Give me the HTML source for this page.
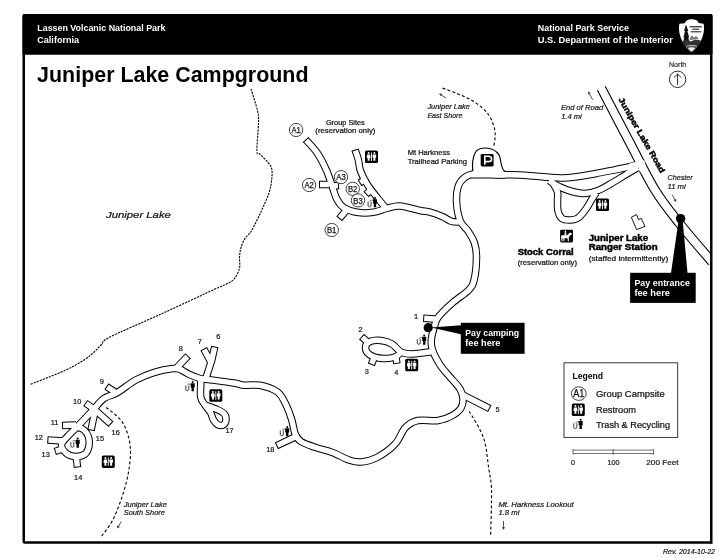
<!DOCTYPE html><html><head><meta charset="utf-8"><style>
html,body{margin:0;padding:0;background:#fff;width:728px;height:558px;overflow:hidden}
svg{display:block;will-change:transform}
text{font-family:"Liberation Sans",sans-serif}
</style></head><body>
<svg width="728" height="558" viewBox="0 0 728 558">
<rect x="0" y="0" width="728" height="558" fill="#fff"/>

<rect x="23.75" y="15.25" width="687.5" height="527.2" fill="none" stroke="#000" stroke-width="2.5" rx="1"/>
<rect x="22.5" y="14" width="690" height="40.7" fill="#000" rx="1.5"/>
<text x="37.3" y="30.9" font-size="9" textLength="128.1" lengthAdjust="spacingAndGlyphs" font-weight="bold" fill="#fff">Lassen Volcanic National Park</text>
<text x="37.3" y="42.8" font-size="9" textLength="41.7" lengthAdjust="spacingAndGlyphs" font-weight="bold" fill="#fff">California</text>
<text x="537.8" y="30.9" font-size="9" textLength="91.1" lengthAdjust="spacingAndGlyphs" font-weight="bold" fill="#fff">National Park Service</text>
<text x="537.8" y="42.8" font-size="9" textLength="135" lengthAdjust="spacingAndGlyphs" font-weight="bold" fill="#fff">U.S. Department of the Interior</text>
<path d="M685,23.3 C685.5,20.5 688.5,19.3 691.5,19.3 C694.5,19.3 698,20.3 698.7,23 L703.6,23.8 C704.4,27 704.2,32 702.6,36.5 C700.5,43 696,48.5 691.5,52.3 C687,48.5 682.5,43 680.4,36.5 C678.8,32 678.6,27 679.4,23.8 Z" fill="#fff"/>
<path d="M686,24.5 L688.3,31 L687.4,31 L689.2,37.5 L688.2,37.5 L689.8,43 L682.8,43 L684.3,37.5 L683.4,37.5 L685,31 L684,31 Z" fill="#111"/>
<g fill="#444"><rect x="689.6" y="26" width="12.2" height="1.4"/><rect x="692.2" y="28.6" width="7" height="1.3"/><rect x="690.6" y="31.1" width="10.6" height="1.3"/></g>
<path d="M682.5,41.5 C685,39.8 688,40 691,41.5 C694,39.5 697,39 700.8,40.5 C699.5,43.5 698.5,45 697.5,46.3 C695,45 689,45 685.5,46.3 C684.5,45 683.5,43.5 682.5,41.5 Z" fill="#333"/>
<path d="M689.5,38.5 L692,35.5 L694,37.5 L696,36 L699,39 L690,40 Z" fill="#777"/>
<path d="M685.5,46.5 C689,45.6 694,45.6 697.5,46.5 C696,48.5 694,50.5 691.5,52 C689,50.5 687,48.5 685.5,46.5 Z" fill="#555"/>
<path d="M688,48 C690,47 693,47 695,48 C694,49.5 693,50.5 691.5,51.3 C690,50.5 689,49.5 688,48 Z" fill="#eee"/>
<text x="37.1" y="81.8" font-size="22" textLength="271.4" lengthAdjust="spacingAndGlyphs" font-weight="bold">Juniper Lake Campground</text>
<path d="M251.00,89.00 C252.12,92.72 256.45,105.65 257.70,111.30 C258.95,116.95 258.63,116.30 258.50,122.90 C258.37,129.50 256.70,145.72 256.90,150.90 C257.10,156.08 257.90,152.13 259.70,154.00 C261.50,155.87 265.70,159.63 267.70,162.10 C269.70,164.57 271.03,165.90 271.70,168.80 C272.37,171.70 272.15,175.47 271.70,179.50 C271.25,183.53 270.78,187.63 269.00,193.00 C267.22,198.37 263.90,205.45 261.00,211.70 C258.10,217.95 254.28,226.02 251.60,230.50 C248.92,234.98 246.68,235.68 244.90,238.60 C243.12,241.52 241.80,244.87 240.90,248.00 C240.00,251.13 239.73,254.05 239.50,257.40 C239.27,260.75 240.38,264.52 239.50,268.10 C238.62,271.68 236.43,276.22 234.20,278.90 C231.97,281.58 229.30,282.50 226.10,284.20 C222.90,285.90 226.02,284.05 215.00,289.10 C203.98,294.15 177.50,306.52 160.00,314.50 C142.50,322.48 119.83,331.92 110.00,337.00 C100.17,342.08 104.00,342.17 101.00,345.00 C98.00,347.83 95.50,351.08 92.00,354.00 C88.50,356.92 84.33,359.83 80.00,362.50 C75.67,365.17 71.33,367.50 66.00,370.00 C60.67,372.50 53.97,375.10 48.00,377.50 C42.03,379.90 33.17,383.25 30.20,384.40" fill="none" stroke="#000" stroke-width="1.1" stroke-dasharray="2.2 1"/>
<path d="M442.50,88.10 C445.08,89.08 452.78,91.77 458.00,94.00 C463.22,96.23 468.78,98.17 473.80,101.50 C478.82,104.83 484.67,109.52 488.10,114.00 C491.53,118.48 493.25,124.40 494.40,128.40 C495.55,132.40 495.15,134.87 495.00,138.00 C494.85,141.13 493.75,145.67 493.50,147.20" fill="none" stroke="#000" stroke-width="1.1" stroke-dasharray="3 2.2"/>
<path d="M106.30,407.50 C109.02,410.02 118.63,416.33 122.60,422.60 C126.57,428.87 129.07,437.17 130.10,445.10 C131.13,453.03 130.05,461.85 128.80,470.20 C127.55,478.55 125.30,486.85 122.60,495.20 C119.90,503.55 116.15,513.40 112.60,520.30 C109.05,527.20 103.18,533.88 101.30,536.60" fill="none" stroke="#000" stroke-width="1.1" stroke-dasharray="3 2.2"/>
<path d="M469.20,411.20 C471.60,415.67 480.33,428.38 483.60,438.00 C486.87,447.62 487.50,460.83 488.80,468.90 C490.10,476.97 490.97,480.18 491.40,486.40 C491.83,492.62 491.53,497.97 491.40,506.20 C491.27,514.43 490.73,530.87 490.60,535.80" fill="none" stroke="#000" stroke-width="1.1" stroke-dasharray="3 2.2"/>
<path d="M601.30,88.20 C606.08,97.33 621.05,126.03 630.00,143.00 C638.95,159.97 646.67,176.50 655.00,190.00 C663.33,203.50 670.50,212.00 680.00,224.00 C689.50,236.00 706.67,255.67 712.00,262.00" fill="none" stroke="#000" stroke-width="9.9"/>
<g fill="none" stroke="#000" stroke-width="7.5" stroke-linejoin="round"><path d="M94.00,409.00 C95.63,407.27 99.87,401.37 103.80,398.60 C107.73,395.83 112.27,395.50 117.60,392.40 C122.93,389.30 129.67,383.35 135.80,380.00 C141.93,376.65 148.18,374.20 154.40,372.30 C160.62,370.40 168.80,369.08 173.10,368.60 C177.40,368.12 177.58,368.47 180.20,369.40 C182.82,370.33 185.50,372.68 188.80,374.20 C192.10,375.72 196.80,377.62 200.00,378.50 C203.20,379.38 202.37,378.75 208.00,379.50 C213.63,380.25 227.72,382.05 233.80,383.00 C239.88,383.95 240.15,384.82 244.50,385.20 C248.85,385.58 254.45,384.20 259.90,385.30 C265.35,386.40 273.02,388.88 277.20,391.80 C281.38,394.72 282.62,398.27 285.00,402.80 C287.38,407.33 289.78,413.75 291.50,419.00 C293.22,424.25 293.70,430.52 295.30,434.30 C296.90,438.08 297.67,439.50 301.10,441.70 C304.53,443.90 310.68,445.72 315.90,447.50 C321.12,449.28 326.88,450.32 332.40,452.40 C337.92,454.48 344.23,458.40 349.00,460.00 C353.77,461.60 356.33,462.42 361.00,462.00 C365.67,461.58 371.33,460.47 377.00,457.50 C382.67,454.53 390.28,449.17 395.00,444.20 C399.72,439.23 401.52,431.65 405.30,427.70 C409.08,423.75 412.20,421.70 417.70,420.50 C423.20,419.30 432.47,421.37 438.30,420.50 C444.13,419.63 448.92,417.37 452.70,415.30 C456.48,413.23 459.28,410.85 461.00,408.10 C462.72,405.35 463.17,401.98 463.00,398.80 C462.83,395.62 462.17,392.63 460.00,389.00 C457.83,385.37 453.28,380.97 450.00,377.00 C446.72,373.03 443.27,369.85 440.30,365.20 C437.33,360.55 433.67,353.57 432.20,349.10 C430.73,344.63 431.15,342.08 431.50,338.40 C431.85,334.72 433.22,330.50 434.30,327.00 C435.38,323.50 435.00,321.40 438.00,317.40 C441.00,313.40 447.23,307.52 452.30,303.00 C457.37,298.48 464.78,294.08 468.40,290.30 C472.02,286.52 472.65,285.68 474.00,280.30 C475.35,274.92 476.42,264.22 476.50,258.00 C476.58,251.78 475.92,247.50 474.50,243.00 C473.08,238.50 470.35,234.62 468.00,231.00 C465.65,227.38 462.30,225.97 460.40,221.30 C458.50,216.63 456.97,208.83 456.60,203.00 C456.23,197.17 456.80,190.60 458.20,186.30 C459.60,182.00 462.08,179.35 465.00,177.20 C467.92,175.05 471.90,173.92 475.70,173.40 C479.50,172.88 483.75,173.85 487.80,174.10 C491.85,174.35 496.05,174.78 500.00,174.90 C503.95,175.02 506.50,174.67 511.50,174.80 C516.50,174.93 521.42,175.17 530.00,175.70 C538.58,176.23 552.00,178.37 563.00,178.00 C574.00,177.63 583.50,175.67 596.00,173.50 C608.50,171.33 631.00,166.42 638.00,165.00"/><path d="M459.00,222.00 C457.72,221.88 454.10,222.22 451.30,221.30 C448.50,220.38 445.75,218.02 442.20,216.50 C438.65,214.98 433.70,213.20 430.00,212.20 C426.30,211.20 425.00,211.53 420.00,210.50 C415.00,209.47 405.47,206.38 400.00,206.00 C394.53,205.62 391.67,207.15 387.20,208.20 C382.73,209.25 378.25,211.62 373.20,212.30 C368.15,212.98 361.75,213.03 356.90,212.30 C352.05,211.57 347.40,210.00 344.10,207.90 C340.80,205.80 339.05,203.20 337.10,199.70 C335.15,196.20 334.15,191.75 332.40,186.90 C330.65,182.05 329.12,176.23 326.60,170.60 C324.08,164.97 320.80,158.28 317.30,153.10 C313.80,147.92 307.55,141.77 305.60,139.50"/><path d="M385.00,207.00 C383.82,205.58 380.83,202.23 377.90,198.50 C374.97,194.77 370.32,189.25 367.40,184.60 C364.48,179.95 361.90,174.70 360.40,170.60 C358.90,166.50 359.30,163.50 358.40,160.00 C357.50,156.50 355.57,151.33 355.00,149.60"/><path d="M364.50,180.00 L359.50,183.00"/><path d="M370.50,190.00 L366.00,194.50"/><path d="M329.00,184.50 L319.00,184.60"/><path d="M333.00,186.00 L339.00,185.50"/><path d="M347.00,209.50 L339.20,218.80"/><path d="M115.00,392.00 L106.40,386.40"/><path d="M176.00,368.50 L188.10,355.80"/><path d="M206.00,378.00 L211.20,361.60"/><path d="M211.20,362.60 L203.70,348.70"/><path d="M211.20,362.60 L214.80,346.50"/><path d="M295.00,437.00 L276.40,445.80"/><path d="M462.00,394.50 L489.80,408.70"/><path d="M435.00,319.00 L423.20,318.20"/><path d="M201.00,379.00 C200.95,381.98 200.03,392.57 200.70,396.90 C201.37,401.23 203.37,402.40 205.00,405.00 C206.63,407.60 209.08,410.00 210.50,412.50 C211.92,415.00 212.25,417.95 213.50,420.00 C214.75,422.05 216.33,424.00 218.00,424.80 C219.67,425.60 222.17,425.68 223.50,424.80 C224.83,423.92 225.92,421.38 226.00,419.50 C226.08,417.62 225.67,415.25 224.00,413.50 C222.33,411.75 219.17,410.42 216.00,409.00 C212.83,407.58 206.83,405.67 205.00,405.00"/><path d="M431.00,351.80 C427.83,352.17 417.00,353.97 412.00,354.00 C407.00,354.03 404.33,353.67 401.00,352.00 C397.67,350.33 395.33,345.92 392.00,344.00 C388.67,342.08 384.67,340.92 381.00,340.50 C377.33,340.08 372.58,340.33 370.00,341.50 C367.42,342.67 365.50,345.25 365.50,347.50 C365.50,349.75 367.08,353.17 370.00,355.00 C372.92,356.83 378.83,358.17 383.00,358.50 C387.17,358.83 392.00,358.08 395.00,357.00 C398.00,355.92 400.00,352.83 401.00,352.00"/><path d="M367.00,341.50 L361.50,336.60"/><path d="M374.00,358.00 L371.30,364.80"/><path d="M396.00,357.00 L396.80,363.80"/><path d="M94.00,409.00 L85.30,403.00"/><path d="M94.00,409.00 L111.00,424.20"/><path d="M95.00,411.00 L91.00,430.50"/><path d="M94.00,409.00 L77.00,427.00"/><path d="M77.00,427.00 C75.50,428.50 70.58,433.08 68.00,436.00 C65.42,438.92 61.83,441.67 61.50,444.50 C61.17,447.33 63.75,451.00 66.00,453.00 C68.25,455.00 71.83,456.33 75.00,456.50 C78.17,456.67 82.67,455.75 85.00,454.00 C87.33,452.25 88.42,448.83 89.00,446.00 C89.58,443.17 89.33,439.67 88.50,437.00 C87.67,434.33 85.92,431.67 84.00,430.00 C82.08,428.33 78.17,427.50 77.00,427.00"/><path d="M76.00,425.00 L62.00,425.50"/><path d="M64.00,441.00 L47.40,440.00"/><path d="M64.00,448.50 L54.80,451.50"/><path d="M76.00,455.00 L77.50,467.50"/><path d="M549.00,180.50 C550.83,181.58 556.17,185.17 560.00,187.00 C563.83,188.83 567.83,190.42 572.00,191.50 C576.17,192.58 580.67,193.67 585.00,193.50 C589.33,193.33 593.50,192.25 598.00,190.50 C602.50,188.75 607.33,185.67 612.00,183.00 C616.67,180.33 621.67,177.08 626.00,174.50 C630.33,171.92 636.00,168.67 638.00,167.50"/><path d="M553.00,183.00 C553.75,184.50 556.75,189.17 557.50,192.00 C558.25,194.83 557.42,196.83 557.50,200.00 C557.58,203.17 557.25,207.92 558.00,211.00 C558.75,214.08 560.00,217.00 562.00,218.50 C564.00,220.00 567.33,220.08 570.00,220.00 C572.67,219.92 575.33,219.83 578.00,218.00 C580.67,216.17 583.67,212.17 586.00,209.00 C588.33,205.83 590.33,201.67 592.00,199.00 C593.67,196.33 595.33,194.00 596.00,193.00"/></g><path d="M473,172 C472,165 471.5,158 476.3,151 C479,148.5 482,148 485,148 C490,148 496,149.5 499.3,155.4 C501,159 500.5,166 503.7,170.5 C506,173 510,173.5 515,174 L505,178 L470,178 Z" fill="#fff" stroke="#000" stroke-width="1.15"/><g fill="none" stroke="#fff" stroke-width="5.5" stroke-linejoin="round"><path d="M94.00,409.00 C95.63,407.27 99.87,401.37 103.80,398.60 C107.73,395.83 112.27,395.50 117.60,392.40 C122.93,389.30 129.67,383.35 135.80,380.00 C141.93,376.65 148.18,374.20 154.40,372.30 C160.62,370.40 168.80,369.08 173.10,368.60 C177.40,368.12 177.58,368.47 180.20,369.40 C182.82,370.33 185.50,372.68 188.80,374.20 C192.10,375.72 196.80,377.62 200.00,378.50 C203.20,379.38 202.37,378.75 208.00,379.50 C213.63,380.25 227.72,382.05 233.80,383.00 C239.88,383.95 240.15,384.82 244.50,385.20 C248.85,385.58 254.45,384.20 259.90,385.30 C265.35,386.40 273.02,388.88 277.20,391.80 C281.38,394.72 282.62,398.27 285.00,402.80 C287.38,407.33 289.78,413.75 291.50,419.00 C293.22,424.25 293.70,430.52 295.30,434.30 C296.90,438.08 297.67,439.50 301.10,441.70 C304.53,443.90 310.68,445.72 315.90,447.50 C321.12,449.28 326.88,450.32 332.40,452.40 C337.92,454.48 344.23,458.40 349.00,460.00 C353.77,461.60 356.33,462.42 361.00,462.00 C365.67,461.58 371.33,460.47 377.00,457.50 C382.67,454.53 390.28,449.17 395.00,444.20 C399.72,439.23 401.52,431.65 405.30,427.70 C409.08,423.75 412.20,421.70 417.70,420.50 C423.20,419.30 432.47,421.37 438.30,420.50 C444.13,419.63 448.92,417.37 452.70,415.30 C456.48,413.23 459.28,410.85 461.00,408.10 C462.72,405.35 463.17,401.98 463.00,398.80 C462.83,395.62 462.17,392.63 460.00,389.00 C457.83,385.37 453.28,380.97 450.00,377.00 C446.72,373.03 443.27,369.85 440.30,365.20 C437.33,360.55 433.67,353.57 432.20,349.10 C430.73,344.63 431.15,342.08 431.50,338.40 C431.85,334.72 433.22,330.50 434.30,327.00 C435.38,323.50 435.00,321.40 438.00,317.40 C441.00,313.40 447.23,307.52 452.30,303.00 C457.37,298.48 464.78,294.08 468.40,290.30 C472.02,286.52 472.65,285.68 474.00,280.30 C475.35,274.92 476.42,264.22 476.50,258.00 C476.58,251.78 475.92,247.50 474.50,243.00 C473.08,238.50 470.35,234.62 468.00,231.00 C465.65,227.38 462.30,225.97 460.40,221.30 C458.50,216.63 456.97,208.83 456.60,203.00 C456.23,197.17 456.80,190.60 458.20,186.30 C459.60,182.00 462.08,179.35 465.00,177.20 C467.92,175.05 471.90,173.92 475.70,173.40 C479.50,172.88 483.75,173.85 487.80,174.10 C491.85,174.35 496.05,174.78 500.00,174.90 C503.95,175.02 506.50,174.67 511.50,174.80 C516.50,174.93 521.42,175.17 530.00,175.70 C538.58,176.23 552.00,178.37 563.00,178.00 C574.00,177.63 583.50,175.67 596.00,173.50 C608.50,171.33 631.00,166.42 638.00,165.00"/><path d="M459.00,222.00 C457.72,221.88 454.10,222.22 451.30,221.30 C448.50,220.38 445.75,218.02 442.20,216.50 C438.65,214.98 433.70,213.20 430.00,212.20 C426.30,211.20 425.00,211.53 420.00,210.50 C415.00,209.47 405.47,206.38 400.00,206.00 C394.53,205.62 391.67,207.15 387.20,208.20 C382.73,209.25 378.25,211.62 373.20,212.30 C368.15,212.98 361.75,213.03 356.90,212.30 C352.05,211.57 347.40,210.00 344.10,207.90 C340.80,205.80 339.05,203.20 337.10,199.70 C335.15,196.20 334.15,191.75 332.40,186.90 C330.65,182.05 329.12,176.23 326.60,170.60 C324.08,164.97 320.69,158.16 317.30,153.10 C313.91,148.04 308.09,142.40 306.25,140.26"/><path d="M385.00,207.00 C383.82,205.58 380.83,202.23 377.90,198.50 C374.97,194.77 370.32,189.25 367.40,184.60 C364.48,179.95 361.90,174.70 360.40,170.60 C358.90,166.50 359.25,163.34 358.40,160.00 C357.55,156.66 355.83,152.13 355.31,150.55"/><path d="M364.50,180.00 L360.36,182.49"/><path d="M370.50,190.00 L366.71,193.79"/><path d="M329.00,184.50 L320.00,184.59"/><path d="M333.00,186.00 L338.00,185.58"/><path d="M347.00,209.50 L339.84,218.03"/><path d="M115.00,392.00 L107.24,386.95"/><path d="M176.00,368.50 L187.41,356.52"/><path d="M206.00,378.00 L211.20,361.60"/><path d="M211.20,362.60 L204.17,349.58"/><path d="M211.20,362.60 L214.58,347.48"/><path d="M295.00,437.00 L277.30,445.37"/><path d="M462.00,394.50 L488.91,408.25"/><path d="M435.00,319.00 L424.20,318.27"/><path d="M201.00,379.00 C200.95,381.98 200.03,392.57 200.70,396.90 C201.37,401.23 203.37,402.40 205.00,405.00 C206.63,407.60 209.08,410.00 210.50,412.50 C211.92,415.00 212.25,417.95 213.50,420.00 C214.75,422.05 216.33,424.00 218.00,424.80 C219.67,425.60 222.17,425.68 223.50,424.80 C224.83,423.92 225.92,421.38 226.00,419.50 C226.08,417.62 225.67,415.25 224.00,413.50 C222.33,411.75 219.17,410.42 216.00,409.00 C212.83,407.58 206.83,405.67 205.00,405.00"/><path d="M431.00,351.80 C427.83,352.17 417.00,353.97 412.00,354.00 C407.00,354.03 404.33,353.67 401.00,352.00 C397.67,350.33 395.33,345.92 392.00,344.00 C388.67,342.08 384.67,340.92 381.00,340.50 C377.33,340.08 372.58,340.33 370.00,341.50 C367.42,342.67 365.50,345.25 365.50,347.50 C365.50,349.75 367.08,353.17 370.00,355.00 C372.92,356.83 378.83,358.17 383.00,358.50 C387.17,358.83 392.00,358.08 395.00,357.00 C398.00,355.92 400.00,352.83 401.00,352.00"/><path d="M367.00,341.50 L362.25,337.27"/><path d="M374.00,358.00 L371.67,363.87"/><path d="M396.00,357.00 L396.68,362.81"/><path d="M94.00,409.00 L86.12,403.57"/><path d="M94.00,409.00 L110.25,423.53"/><path d="M95.00,411.00 L91.20,429.52"/><path d="M94.00,409.00 L77.00,427.00"/><path d="M77.00,427.00 C75.50,428.50 70.58,433.08 68.00,436.00 C65.42,438.92 61.83,441.67 61.50,444.50 C61.17,447.33 63.75,451.00 66.00,453.00 C68.25,455.00 71.83,456.33 75.00,456.50 C78.17,456.67 82.67,455.75 85.00,454.00 C87.33,452.25 88.42,448.83 89.00,446.00 C89.58,443.17 89.33,439.67 88.50,437.00 C87.67,434.33 85.92,431.67 84.00,430.00 C82.08,428.33 78.17,427.50 77.00,427.00"/><path d="M76.00,425.00 L63.00,425.46"/><path d="M64.00,441.00 L48.40,440.06"/><path d="M64.00,448.50 L55.75,451.19"/><path d="M76.00,455.00 L77.38,466.51"/><path d="M549.00,180.50 C550.83,181.58 556.17,185.17 560.00,187.00 C563.83,188.83 567.83,190.42 572.00,191.50 C576.17,192.58 580.67,193.67 585.00,193.50 C589.33,193.33 593.50,192.25 598.00,190.50 C602.50,188.75 607.33,185.67 612.00,183.00 C616.67,180.33 621.67,177.08 626.00,174.50 C630.33,171.92 636.00,168.67 638.00,167.50"/><path d="M553.00,183.00 C553.75,184.50 556.75,189.17 557.50,192.00 C558.25,194.83 557.42,196.83 557.50,200.00 C557.58,203.17 557.25,207.92 558.00,211.00 C558.75,214.08 560.00,217.00 562.00,218.50 C564.00,220.00 567.33,220.08 570.00,220.00 C572.67,219.92 575.33,219.83 578.00,218.00 C580.67,216.17 583.67,212.17 586.00,209.00 C588.33,205.83 590.33,201.67 592.00,199.00 C593.67,196.33 595.33,194.00 596.00,193.00"/></g>
<path d="M599.40,84.60 C599.72,85.20 596.20,78.47 601.30,88.20 C606.40,97.93 621.05,126.03 630.00,143.00 C638.95,159.97 646.67,176.50 655.00,190.00 C663.33,203.50 670.50,212.00 680.00,224.00 C689.50,236.00 706.67,255.67 712.00,262.00" fill="none" stroke="#fff" stroke-width="7.7"/>
<path d="M630,166 L645,163" stroke="#fff" stroke-width="5.5"/>
<path d="M640,168 L648,176" stroke="#fff" stroke-width="5"/>
<rect x="709.9" y="54" width="30" height="488" fill="#fff"/><rect x="710" y="54" width="2.5" height="489.7" fill="#000"/>
<circle cx="428.2" cy="327.7" r="4.6"/>
<path d="M431,327.6 L461,325.2 L461,334.2 Z"/>
<rect x="460.8" y="322.8" width="63.8" height="31" />
<text x="465.3" y="336.3" font-size="9.4" textLength="53.9" lengthAdjust="spacingAndGlyphs" font-weight="bold" fill="#fff">Pay camping</text><text x="465.3" y="346.2" font-size="9.4" textLength="35.1" lengthAdjust="spacingAndGlyphs" font-weight="bold" fill="#fff">fee here</text>
<circle cx="680.6" cy="218.6" r="4.7"/>
<path d="M678.5,221 L682.7,221 L687.5,273 L671,273 Z"/>
<rect x="630.1" y="272.8" width="65.6" height="30.1"/>
<text x="634.4" y="286" font-size="9.4" textLength="55.5" lengthAdjust="spacingAndGlyphs" font-weight="bold" fill="#fff">Pay entrance</text><text x="634.4" y="296.4" font-size="9.4" textLength="35.5" lengthAdjust="spacingAndGlyphs" font-weight="bold" fill="#fff">fee here</text>
<rect x="365" y="150.5" width="13" height="12.5" rx="1.6" fill="#000"/><g fill="#fff"><circle cx="368.64" cy="153.10" r="1.0"/><path d="M367.14,154.50 L370.14,154.50 L370.64,158.00 L369.64,158.00 L369.64,160.80 L367.64,160.80 L367.64,158.00 L366.64,158.00 Z"/><circle cx="374.36" cy="153.10" r="1.0"/><path d="M372.56,154.50 L376.16,154.50 L376.16,157.70 L375.36,157.70 L375.36,160.80 L373.36,160.80 L373.36,157.70 L372.56,157.70 Z"/><rect x="371.05" y="152.50" width="0.9" height="8.5"/></g>
<rect x="596" y="198.5" width="13" height="12.5" rx="1.6" fill="#000"/><g fill="#fff"><circle cx="599.64" cy="201.10" r="1.0"/><path d="M598.14,202.50 L601.14,202.50 L601.64,206.00 L600.64,206.00 L600.64,208.80 L598.64,208.80 L598.64,206.00 L597.64,206.00 Z"/><circle cx="605.36" cy="201.10" r="1.0"/><path d="M603.56,202.50 L607.16,202.50 L607.16,205.70 L606.36,205.70 L606.36,208.80 L604.36,208.80 L604.36,205.70 L603.56,205.70 Z"/><rect x="602.05" y="200.50" width="0.9" height="8.5"/></g>
<rect x="405.2" y="358.8" width="13" height="12.5" rx="1.6" fill="#000"/><g fill="#fff"><circle cx="408.84" cy="361.40" r="1.0"/><path d="M407.34,362.80 L410.34,362.80 L410.84,366.30 L409.84,366.30 L409.84,369.10 L407.84,369.10 L407.84,366.30 L406.84,366.30 Z"/><circle cx="414.56" cy="361.40" r="1.0"/><path d="M412.76,362.80 L416.36,362.80 L416.36,366.00 L415.56,366.00 L415.56,369.10 L413.56,369.10 L413.56,366.00 L412.76,366.00 Z"/><rect x="411.25" y="360.80" width="0.9" height="8.5"/></g>
<rect x="209.3" y="389.3" width="13" height="12.5" rx="1.6" fill="#000"/><g fill="#fff"><circle cx="212.94" cy="391.90" r="1.0"/><path d="M211.44,393.30 L214.44,393.30 L214.94,396.80 L213.94,396.80 L213.94,399.60 L211.94,399.60 L211.94,396.80 L210.94,396.80 Z"/><circle cx="218.66" cy="391.90" r="1.0"/><path d="M216.86,393.30 L220.46,393.30 L220.46,396.50 L219.66,396.50 L219.66,399.60 L217.66,399.60 L217.66,396.50 L216.86,396.50 Z"/><rect x="215.35" y="391.30" width="0.9" height="8.5"/></g>
<rect x="101.8" y="455.4" width="13" height="12.5" rx="1.6" fill="#000"/><g fill="#fff"><circle cx="105.44" cy="458.00" r="1.0"/><path d="M103.94,459.40 L106.94,459.40 L107.44,462.90 L106.44,462.90 L106.44,465.70 L104.44,465.70 L104.44,462.90 L103.44,462.90 Z"/><circle cx="111.16" cy="458.00" r="1.0"/><path d="M109.36,459.40 L112.96,459.40 L112.96,462.60 L112.16,462.60 L112.16,465.70 L110.16,465.70 L110.16,462.60 L109.36,462.60 Z"/><rect x="107.85" y="457.40" width="0.9" height="8.5"/></g>
<rect x="571.8" y="403.5" width="13" height="12.5" rx="1.6" fill="#000"/><g fill="#fff"><circle cx="575.44" cy="406.10" r="1.0"/><path d="M573.94,407.50 L576.94,407.50 L577.44,411.00 L576.44,411.00 L576.44,413.80 L574.44,413.80 L574.44,411.00 L573.44,411.00 Z"/><circle cx="581.16" cy="406.10" r="1.0"/><path d="M579.36,407.50 L582.96,407.50 L582.96,410.70 L582.16,410.70 L582.16,413.80 L580.16,413.80 L580.16,410.70 L579.36,410.70 Z"/><rect x="577.85" y="405.50" width="0.9" height="8.5"/></g>
<g><path d="M417.30,339.00 L417.30,343.50 Q418.80,345.30 420.30,343.50 L420.30,339.00" fill="none" stroke="#111" stroke-width="0.8"/><path d="M418.80,338.50 Q420.00,337.00 422.50,337.80" fill="none" stroke="#222" stroke-width="0.6"/><circle cx="424.20" cy="335.40" r="1.0"/><path d="M422.20,336.70 L426.20,336.70 L426.20,341.00 L425.40,341.00 L425.40,344.80 L423.00,344.80 L423.00,341.00 L422.20,341.00 Z"/></g>
<g><path d="M368.10,201.50 L368.10,206.00 Q369.60,207.80 371.10,206.00 L371.10,201.50" fill="none" stroke="#111" stroke-width="0.8"/><path d="M369.60,201.00 Q370.80,199.50 373.30,200.30" fill="none" stroke="#222" stroke-width="0.6"/><circle cx="375.00" cy="197.90" r="1.0"/><path d="M373.00,199.20 L377.00,199.20 L377.00,203.50 L376.20,203.50 L376.20,207.30 L373.80,207.30 L373.80,203.50 L373.00,203.50 Z"/></g>
<g><path d="M185.80,385.50 L185.80,390.00 Q187.30,391.80 188.80,390.00 L188.80,385.50" fill="none" stroke="#111" stroke-width="0.8"/><path d="M187.30,385.00 Q188.50,383.50 191.00,384.30" fill="none" stroke="#222" stroke-width="0.6"/><circle cx="192.70" cy="381.90" r="1.0"/><path d="M190.70,383.20 L194.70,383.20 L194.70,387.50 L193.90,387.50 L193.90,391.30 L191.50,391.30 L191.50,387.50 L190.70,387.50 Z"/></g>
<g><path d="M280.30,430.50 L280.30,435.00 Q281.80,436.80 283.30,435.00 L283.30,430.50" fill="none" stroke="#111" stroke-width="0.8"/><path d="M281.80,430.00 Q283.00,428.50 285.50,429.30" fill="none" stroke="#222" stroke-width="0.6"/><circle cx="287.20" cy="426.90" r="1.0"/><path d="M285.20,428.20 L289.20,428.20 L289.20,432.50 L288.40,432.50 L288.40,436.30 L286.00,436.30 L286.00,432.50 L285.20,432.50 Z"/></g>
<g><path d="M70.80,442.00 L70.80,446.50 Q72.30,448.30 73.80,446.50 L73.80,442.00" fill="none" stroke="#111" stroke-width="0.8"/><path d="M72.30,441.50 Q73.50,440.00 76.00,440.80" fill="none" stroke="#222" stroke-width="0.6"/><circle cx="77.70" cy="438.40" r="1.0"/><path d="M75.70,439.70 L79.70,439.70 L79.70,444.00 L78.90,444.00 L78.90,447.80 L76.50,447.80 L76.50,444.00 L75.70,444.00 Z"/></g>
<g><path d="M573.80,423.30 L573.80,427.80 Q575.30,429.60 576.80,427.80 L576.80,423.30" fill="none" stroke="#111" stroke-width="0.8"/><path d="M575.30,422.80 Q576.50,421.30 579.00,422.10" fill="none" stroke="#222" stroke-width="0.6"/><circle cx="580.70" cy="419.70" r="1.0"/><path d="M578.70,421.00 L582.70,421.00 L582.70,425.30 L581.90,425.30 L581.90,429.10 L579.50,429.10 L579.50,425.30 L578.70,425.30 Z"/></g>
<rect x="480.7" y="153.9" width="12.9" height="12.6" rx="1.4"/>
<path d="M484.8,164.8 L484.8,156.2 L488.3,156.2 C490.8,156.2 491.6,157.6 491.6,158.9 C491.6,160.4 490.6,161.6 488.3,161.6 L484.8,161.6" fill="none" stroke="#fff" stroke-width="1.6"/>
<rect x="560.1" y="229.7" width="12.9" height="12.8" rx="1.4"/>
<path d="M561.3,235.2 L567.2,235.2 L569.3,233.1 L570.6,232.6 L572,233.7 L571.3,234.9 L570,235.2 L568.8,237.8 L568.8,241.2 L567.8,241.2 L567.5,238.3 L564.6,238.3 L564.4,241.2 L563.5,241.2 L563.2,238.3 L562.6,238.3 L562.4,241.2 L561.5,241.2 L561.2,237.5 Z" fill="#fff"/>
<circle cx="565.4" cy="231.4" r="0.8" fill="#fff"/><path d="M564.7,232.3 L566.2,232.3 L566.4,235.5 L564.5,235.5 Z" fill="#fff"/>
<path d="M631.3,217.2 L636.6,214.6 L638.6,219.6 L641.2,218.4 L645,226.3 L636.6,229.6 Z" fill="#fff" stroke="#000" stroke-width="0.9"/>
<ellipse cx="296.1" cy="130" rx="6.7" ry="6.6" fill="#fff" stroke="#222" stroke-width="0.85"/><text x="296.1" y="133.10" font-size="8.6" text-anchor="middle" fill="#111" stroke="#111" stroke-width="0.25" textLength="9.4" lengthAdjust="spacingAndGlyphs">A1</text>
<ellipse cx="309.1" cy="185" rx="6.7" ry="6.6" fill="#fff" stroke="#222" stroke-width="0.85"/><text x="309.1" y="188.10" font-size="8.6" text-anchor="middle" fill="#111" stroke="#111" stroke-width="0.25" textLength="9.4" lengthAdjust="spacingAndGlyphs">A2</text>
<ellipse cx="341" cy="177.1" rx="6.7" ry="6.6" fill="#fff" stroke="#222" stroke-width="0.85"/><text x="341" y="180.20" font-size="8.6" text-anchor="middle" fill="#111" stroke="#111" stroke-width="0.25" textLength="9.4" lengthAdjust="spacingAndGlyphs">A3</text>
<ellipse cx="352.7" cy="188.8" rx="6.7" ry="6.6" fill="#fff" stroke="#222" stroke-width="0.85"/><text x="352.7" y="191.90" font-size="8.6" text-anchor="middle" fill="#111" stroke="#111" stroke-width="0.25" textLength="9.4" lengthAdjust="spacingAndGlyphs">B2</text>
<ellipse cx="358" cy="200.4" rx="6.7" ry="6.6" fill="#fff" stroke="#222" stroke-width="0.85"/><text x="358" y="203.50" font-size="8.6" text-anchor="middle" fill="#111" stroke="#111" stroke-width="0.25" textLength="9.4" lengthAdjust="spacingAndGlyphs">B3</text>
<ellipse cx="331.7" cy="230" rx="6.7" ry="6.6" fill="#fff" stroke="#222" stroke-width="0.85"/><text x="331.7" y="233.10" font-size="8.6" text-anchor="middle" fill="#111" stroke="#111" stroke-width="0.25" textLength="9.4" lengthAdjust="spacingAndGlyphs">B1</text>
<ellipse cx="578.8" cy="393.6" rx="7.4" ry="6.8" fill="#fff" stroke="#222" stroke-width="0.85"/><text x="578.8" y="397.20" font-size="10" text-anchor="middle" fill="#111" stroke="#111" stroke-width="0.25" textLength="11.2" lengthAdjust="spacingAndGlyphs">A1</text>
<text x="669" y="67.2" font-size="7" textLength="17.3" lengthAdjust="spacingAndGlyphs" fill="#333" stroke="#333" stroke-width="0.22">North</text>
<circle cx="677.6" cy="79.3" r="8.2" fill="none" stroke="#111" stroke-width="0.9"/>
<path d="M677.6,85 L677.6,74 M674,77.5 L677.6,74 L681.2,77.5" fill="none" stroke="#111" stroke-width="0.9"/>
<rect x="564" y="362.8" width="113.7" height="74.6" fill="none" stroke="#222" stroke-width="0.9"/>
<text x="572.5" y="379.2" font-size="8.6" textLength="30.6" lengthAdjust="spacingAndGlyphs" font-weight="bold">Legend</text>
<text x="596" y="396.9" font-size="8.8" textLength="68.7" lengthAdjust="spacingAndGlyphs" fill="#111" stroke="#111" stroke-width="0.22">Group Campsite</text><text x="596" y="412.5" font-size="8.8" textLength="40" lengthAdjust="spacingAndGlyphs" fill="#111" stroke="#111" stroke-width="0.22">Restroom</text><text x="596" y="427.6" font-size="8.8" textLength="74" lengthAdjust="spacingAndGlyphs" fill="#111" stroke="#111" stroke-width="0.22">Trash &amp; Recycling</text>
<path d="M573,450.1 L653.5,450.1 M573,453.5 L653.5,453.5 M573,449 L573,454.6 M613.2,449 L613.2,454.6 M653.5,449 L653.5,454.6" stroke="#333" stroke-width="0.7" fill="none"/>
<text x="572.9" y="464.7" font-size="7.2" fill="#222" text-anchor="middle" stroke="#222" stroke-width="0.22">0</text><text x="613.6" y="464.7" font-size="7.2" fill="#222" text-anchor="middle" stroke="#222" stroke-width="0.22">100</text><text x="646.3" y="464.7" font-size="7.2" textLength="32.3" lengthAdjust="spacingAndGlyphs" fill="#222" stroke="#222" stroke-width="0.22">200 Feet</text>
<text x="325.9" y="125" font-size="7.1" textLength="38.9" lengthAdjust="spacingAndGlyphs" fill="#111" stroke="#111" stroke-width="0.22">Group Sites</text>
<text x="315.3" y="133" font-size="7.1" textLength="60.1" lengthAdjust="spacingAndGlyphs" fill="#111" stroke="#111" stroke-width="0.22">(reservation only)</text>
<text x="407.7" y="155.4" font-size="7.3" textLength="42.3" lengthAdjust="spacingAndGlyphs" fill="#111" stroke="#111" stroke-width="0.22">Mt Harkness</text>
<text x="407.7" y="164.1" font-size="7.3" textLength="59.3" lengthAdjust="spacingAndGlyphs" fill="#111" stroke="#111" stroke-width="0.22">Trailhead Parking</text>
<text x="517.7" y="264.6" font-size="7.2" textLength="59.3" lengthAdjust="spacingAndGlyphs" fill="#111" stroke="#111" stroke-width="0.22">(reservation only)</text>
<text x="588.7" y="260.6" font-size="7.2" textLength="79.5" lengthAdjust="spacingAndGlyphs" fill="#111" stroke="#111" stroke-width="0.22">(staffed intermittently)</text>
<text x="517.7" y="255.3" font-size="8.9" textLength="56" lengthAdjust="spacingAndGlyphs" font-weight="bold" stroke="#000" stroke-width="0.45">Stock Corral</text>
<text x="588.7" y="240.8" font-size="8.9" textLength="59.3" lengthAdjust="spacingAndGlyphs" font-weight="bold" stroke="#000" stroke-width="0.45">Juniper Lake</text>
<text x="588.7" y="250.3" font-size="8.9" textLength="69" lengthAdjust="spacingAndGlyphs" font-weight="bold" stroke="#000" stroke-width="0.45">Ranger Station</text>
<text x="0" y="3" font-size="7.9" textLength="85.5" lengthAdjust="spacingAndGlyphs" font-weight="bold" stroke="#000" stroke-width="0.45" transform="translate(620.8,97.8) rotate(60.3)">Juniper Lake Road</text>
<text x="427.4" y="109.1" font-size="7.2" textLength="42.5" lengthAdjust="spacingAndGlyphs" font-style="italic" fill="#222" stroke="#222" stroke-width="0.22">Juniper Lake</text><text x="427.4" y="117.8" font-size="7.2" textLength="35" lengthAdjust="spacingAndGlyphs" font-style="italic" fill="#222" stroke="#222" stroke-width="0.22">East Shore</text>
<text x="560.9" y="109.7" font-size="7.2" textLength="42.3" lengthAdjust="spacingAndGlyphs" font-style="italic" fill="#222" stroke="#222" stroke-width="0.22">End of Road</text><text x="561.2" y="118.5" font-size="7.2" textLength="20.6" lengthAdjust="spacingAndGlyphs" font-style="italic" fill="#222" stroke="#222" stroke-width="0.22">1.4 mi</text>
<text x="667.5" y="180.3" font-size="7.2" textLength="25.1" lengthAdjust="spacingAndGlyphs" font-style="italic" fill="#222" stroke="#222" stroke-width="0.22">Chester</text><text x="667.5" y="188.8" font-size="7.2" textLength="18.2" lengthAdjust="spacingAndGlyphs" font-style="italic" fill="#222" stroke="#222" stroke-width="0.22">11 mi</text>
<text x="123.7" y="506.5" font-size="7.2" textLength="43.2" lengthAdjust="spacingAndGlyphs" font-style="italic" fill="#222" stroke="#222" stroke-width="0.22">Juniper Lake</text><text x="123.7" y="515.2" font-size="7.2" textLength="41.2" lengthAdjust="spacingAndGlyphs" font-style="italic" fill="#222" stroke="#222" stroke-width="0.22">South Shore</text>
<text x="498.4" y="506.6" font-size="7.2" textLength="75.4" lengthAdjust="spacingAndGlyphs" font-style="italic" fill="#222" stroke="#222" stroke-width="0.22">Mt. Harkness Lookout</text><text x="498.4" y="515.2" font-size="7.2" textLength="21" lengthAdjust="spacingAndGlyphs" font-style="italic" fill="#222" stroke="#222" stroke-width="0.22">1.8 mi</text>
<text x="663" y="553.6" font-size="6.8" textLength="52" lengthAdjust="spacingAndGlyphs" font-style="italic" fill="#222" stroke="#222" stroke-width="0.22">Rev. 2014-10-22</text>
<text x="106" y="217.8" font-size="9.3" textLength="64.9" lengthAdjust="spacingAndGlyphs" font-style="italic" fill="#111" stroke="#111" stroke-width="0.22">Juniper Lake</text>
<path d="M446,97.9 L439.8,94 M442.10,94.14 L439.8,94 L440.92,96.01" fill="none" stroke="#222" stroke-width="0.8"/>
<path d="M592.7,99.8 L588.4,92.1 M590.35,93.32 L588.4,92.1 L588.42,94.40" fill="none" stroke="#222" stroke-width="0.8"/>
<path d="M672.2,194.8 L675.7,201.3 M673.77,200.05 L675.7,201.3 L675.71,199.00" fill="none" stroke="#222" stroke-width="0.8"/>
<path d="M121.3,521.6 L117.6,527.8 M117.69,525.50 L117.6,527.8 L119.58,526.63" fill="none" stroke="#222" stroke-width="0.8"/>
<path d="M503.5,521 L503.5,529.2 M502.40,527.18 L503.5,529.2 L504.60,527.18" fill="none" stroke="#222" stroke-width="0.8"/>
<g font-size="7.4" fill="#111" text-anchor="middle" stroke="#111" stroke-width="0.2">
<text x="101.9" y="384.40">9</text>
<text x="77.2" y="404.10">10</text>
<text x="54.6" y="424.80">11</text>
<text x="38.8" y="439.60">12</text>
<text x="45.7" y="457.40">13</text>
<text x="78.2" y="479.60">14</text>
<text x="99.9" y="441.20">15</text>
<text x="115.7" y="434.70">16</text>
<text x="229.5" y="433.40">17</text>
<text x="270.3" y="452.00">18</text>
<text x="180.9" y="350.50">8</text>
<text x="199.8" y="343.70">7</text>
<text x="218.3" y="338.80">6</text>
<text x="416" y="318.60">1</text>
<text x="360.6" y="332.00">2</text>
<text x="366.9" y="374.10">3</text>
<text x="396.4" y="374.60">4</text>
<text x="497.6" y="412.20">5</text>
</g>
</svg></body></html>
